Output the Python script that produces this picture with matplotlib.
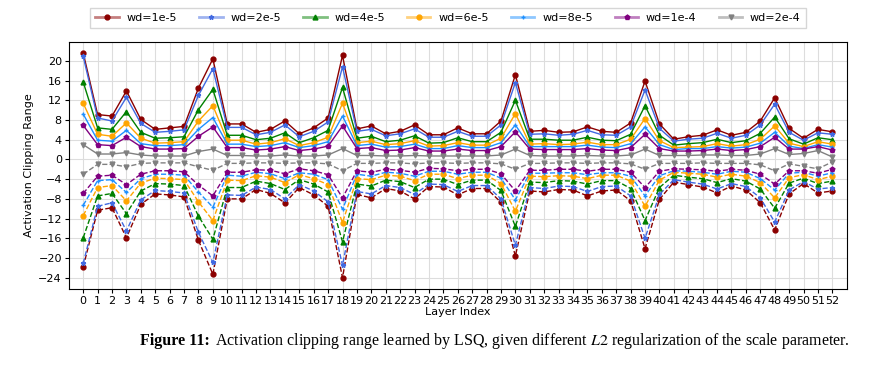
import numpy as np
import matplotlib
matplotlib.use('Agg')
import matplotlib.pyplot as plt
from matplotlib.lines import Line2D
from matplotlib.colors import to_rgba

layers = np.arange(53)
labels = ['wd=1e-5', 'wd=2e-5', 'wd=4e-5', 'wd=6e-5', 'wd=8e-5', 'wd=1e-4', 'wd=2e-4']
colors = ['darkred', 'royalblue', 'green', 'orange', 'dodgerblue', 'purple', 'gray']
markers = ['o', '*', '^', 'o', '+', 'p', 'v']

# upper clipping bound (solid lines)
pos_1e5 = [21.6, 9.1, 8.8, 13.9, 8.1, 6.1, 6.4, 6.7, 14.5, 20.4, 7.2, 7.2, 5.5, 6.1, 7.8, 5.2, 6.4, 8.4, 21.1,
           6.2, 6.8, 5.2, 5.7, 7.0, 5.0, 5.0, 6.4, 5.2, 5.2, 7.8, 17.2, 5.7, 5.9, 5.5, 5.6, 6.6, 5.7, 5.5, 7.4,
           15.9, 7.2, 4.1, 4.6, 4.9, 6.0, 4.9, 5.5, 7.8, 12.5, 6.3, 4.3, 6.1, 5.6]
pos_2e5 = [20.9, 8.4, 7.8, 12.6, 7.3, 5.5, 5.7, 6.0, 13.0, 18.4, 6.5, 6.5, 5.0, 5.5, 7.0, 4.6, 5.7, 7.6, 18.8,
           5.7, 6.1, 4.8, 5.2, 6.2, 4.5, 4.5, 5.7, 4.7, 4.7, 7.0, 15.6, 5.1, 5.2, 4.9, 5.1, 5.9, 5.0, 4.9, 6.6,
           14.1, 6.3, 3.7, 4.1, 4.3, 5.3, 4.3, 4.9, 7.0, 11.2, 5.5, 3.9, 5.4, 5.1]
pos_4e5 = [15.7, 6.4, 6.1, 9.7, 5.5, 4.3, 4.4, 4.6, 10.1, 14.2, 4.9, 4.9, 4.0, 4.3, 5.4, 3.4, 4.4, 5.9, 14.6,
           4.3, 4.7, 3.6, 3.9, 4.8, 3.3, 3.4, 4.4, 3.6, 3.6, 5.5, 12.0, 4.1, 4.1, 3.9, 3.9, 4.5, 3.9, 3.8, 5.1,
           10.9, 4.9, 2.9, 3.2, 3.4, 4.1, 3.4, 3.8, 5.3, 8.6, 4.2, 3.1, 4.4, 4.0]
pos_6e5 = [11.4, 5.1, 4.7, 7.4, 4.3, 3.3, 3.4, 3.6, 7.8, 10.9, 3.9, 3.9, 3.1, 3.4, 4.2, 2.8, 3.4, 4.5, 11.4,
           3.4, 3.7, 3.0, 3.2, 3.8, 2.7, 2.8, 3.4, 2.9, 2.9, 4.3, 9.3, 3.1, 3.2, 3.0, 3.1, 3.5, 3.0, 3.0, 4.1,
           8.3, 3.8, 2.4, 2.5, 2.6, 3.2, 2.7, 3.0, 4.1, 6.8, 3.3, 2.6, 3.6, 3.1]
pos_8e5 = [9.2, 3.9, 3.7, 5.9, 3.2, 2.8, 2.8, 3.0, 6.1, 8.5, 3.1, 3.1, 2.6, 2.8, 3.4, 2.4, 2.8, 3.6, 8.8,
           2.8, 3.1, 2.5, 2.6, 3.1, 2.2, 2.2, 2.8, 2.4, 2.4, 3.4, 7.0, 2.6, 2.6, 2.6, 2.6, 2.9, 2.5, 2.4, 3.2,
           6.6, 3.0, 2.0, 2.2, 2.2, 2.6, 2.3, 2.5, 3.3, 5.5, 2.7, 2.2, 3.0, 2.5]
pos_1e4 = [6.9, 3.0, 2.8, 4.5, 2.6, 2.1, 2.1, 2.2, 4.7, 6.6, 2.4, 2.4, 1.9, 2.1, 2.6, 1.8, 2.1, 2.7, 6.8,
           2.2, 2.4, 1.8, 1.9, 2.4, 1.7, 1.7, 2.1, 1.8, 1.8, 2.6, 5.6, 2.1, 2.0, 2.0, 2.0, 2.2, 1.9, 1.8, 2.4,
           5.1, 2.2, 1.7, 1.7, 1.8, 2.1, 1.8, 2.0, 2.6, 4.5, 2.1, 2.1, 2.6, 1.9]
pos_2e4 = [3.0, 1.1, 1.1, 1.4, 0.9, 0.7, 0.7, 0.7, 1.6, 2.1, 0.8, 0.8, 0.7, 0.7, 0.9, 0.7, 0.7, 0.9, 2.2,
           0.8, 0.8, 0.7, 0.7, 0.8, 0.7, 0.7, 0.7, 0.7, 0.7, 0.9, 2.1, 0.8, 0.7, 0.7, 0.7, 0.8, 0.7, 0.7, 0.9,
           2.1, 0.8, 0.8, 0.8, 0.9, 0.9, 0.8, 0.8, 1.1, 2.2, 1.0, 1.2, 1.8, 0.5]

# lower clipping bound (dashed lines)
neg_1e5 = [-21.8, -10.3, -9.8, -15.9, -9.1, -7.0, -7.2, -7.6, -16.4, -23.3, -8.0, -8.0, -6.1, -6.9, -8.8, -5.7,
           -7.2, -9.5, -24.0, -7.1, -7.8, -5.9, -6.4, -8.0, -5.5, -5.6, -7.2, -5.9, -5.9, -8.7, -19.6, -6.4,
           -6.6, -6.1, -6.2, -7.4, -6.4, -6.2, -8.4, -18.1, -8.1, -4.6, -5.1, -5.6, -6.8, -5.4, -6.2, -8.8,
           -14.3, -7.0, -4.9, -6.8, -6.4]
neg_2e5 = [-21.1, -9.5, -8.8, -14.5, -8.2, -6.3, -6.5, -6.8, -14.8, -20.9, -7.2, -7.3, -5.6, -6.1, -8.0, -5.1,
           -6.4, -8.6, -21.5, -6.5, -7.0, -5.3, -5.7, -7.1, -5.0, -5.1, -6.5, -5.3, -5.3, -8.0, -17.4, -5.7,
           -5.9, -5.4, -5.5, -6.5, -5.5, -5.4, -7.4, -16.0, -7.1, -4.1, -4.6, -5.0, -6.0, -4.9, -5.5, -7.8,
           -12.7, -6.2, -4.5, -6.0, -5.7]
neg_4e5 = [-15.9, -7.4, -6.9, -11.0, -6.4, -4.9, -5.0, -5.3, -11.5, -16.2, -5.7, -5.7, -4.4, -4.9, -6.1, -4.1,
           -5.0, -6.6, -16.7, -5.0, -5.4, -4.2, -4.5, -5.7, -4.0, -4.0, -5.1, -4.2, -4.2, -6.3, -13.6, -4.6,
           -4.7, -4.3, -4.4, -5.0, -4.3, -4.3, -5.9, -12.4, -5.7, -3.2, -3.6, -3.9, -4.7, -3.9, -4.4, -6.0,
           -9.9, -4.8, -3.8, -4.9, -4.4]
neg_6e5 = [-11.4, -5.7, -5.3, -8.4, -4.8, -3.8, -3.9, -4.1, -8.6, -12.4, -4.2, -4.3, -3.3, -3.6, -4.7, -3.1,
           -3.9, -5.1, -12.8, -3.9, -4.1, -3.2, -3.4, -4.3, -3.0, -3.0, -3.9, -3.2, -3.2, -4.9, -10.5, -3.4,
           -3.5, -3.3, -3.4, -3.9, -3.2, -3.2, -4.4, -9.5, -4.2, -2.6, -2.8, -3.0, -3.6, -3.0, -3.4, -4.7,
           -7.8, -3.7, -3.1, -4.1, -3.4]
neg_8e5 = [-9.3, -4.3, -4.1, -6.7, -3.9, -3.0, -3.0, -3.2, -6.6, -9.7, -3.2, -3.4, -2.6, -2.9, -3.9, -2.7,
           -3.0, -4.1, -10.1, -3.0, -3.4, -2.6, -2.8, -3.4, -2.4, -2.4, -3.0, -2.6, -2.6, -3.8, -8.2, -2.8,
           -2.8, -2.7, -2.7, -3.1, -2.7, -2.7, -3.4, -7.4, -3.3, -2.3, -2.4, -2.6, -3.0, -2.4, -2.6, -3.9,
           -6.2, -2.8, -2.6, -3.4, -2.7]
neg_1e4 = [-6.9, -3.4, -3.2, -5.1, -3.0, -2.3, -2.3, -2.5, -5.2, -7.4, -2.6, -2.6, -2.1, -2.2, -2.9, -1.9,
           -2.3, -3.1, -7.8, -2.3, -2.6, -2.0, -2.2, -2.6, -1.8, -1.9, -2.3, -2.0, -2.0, -2.9, -6.4, -2.2,
           -2.2, -2.0, -2.0, -2.4, -2.0, -2.0, -2.6, -5.7, -2.4, -1.9, -2.0, -2.1, -2.4, -2.0, -2.2, -3.0,
           -5.0, -2.3, -2.3, -2.8, -2.0]
neg_2e4 = [-3.0, -1.0, -1.0, -1.5, -0.8, -0.7, -0.7, -0.7, -1.5, -2.2, -0.8, -0.8, -0.7, -0.7, -0.8, -0.7,
           -0.7, -0.9, -2.3, -0.8, -0.8, -0.7, -0.7, -0.9, -0.7, -0.7, -0.8, -0.7, -0.7, -0.9, -2.0, -0.8,
           -0.8, -0.7, -0.7, -0.8, -0.7, -0.7, -0.9, -2.0, -0.8, -0.8, -0.8, -0.7, -0.8, -0.8, -0.8, -1.1,
           -2.3, -0.9, -1.4, -1.9, -0.5]

pos = [pos_1e5, pos_2e5, pos_4e5, pos_6e5, pos_8e5, pos_1e4, pos_2e4]
neg = [neg_1e5, neg_2e5, neg_4e5, neg_6e5, neg_8e5, neg_1e4, neg_2e4]

fig = plt.figure(figsize=(8.82, 3.65), dpi=100)
ax = fig.add_axes([0.078, 0.208, 0.882, 0.678])

handles = []
for p, n, c, m, lab in zip(pos, neg, colors, markers, labels):
    ax.plot(layers, p, color=c, marker=m, ms=3.5, lw=1.0)
    ax.plot(layers, n, color=c, marker=m, ms=3.5, lw=1.0, ls='--')
    # legend: faint line, solid marker
    handles.append(Line2D([], [], color=to_rgba(c, 0.5), lw=2, marker=m, ms=3.5,
                          markerfacecolor=c, markeredgecolor=c, label=lab))

ax.set_xlim(-1, 53)
ax.set_ylim(-26.3, 23.9)
ax.set_xticks(layers)
ax.set_yticks(np.arange(-24, 21, 4))
ax.tick_params(labelsize=8, length=3, pad=2)
ax.grid(color='#dddddd', lw=0.8)
ax.set_axisbelow(True)
ax.set_xlabel('Layer Index', fontsize=8, labelpad=1)
ax.set_ylabel('Activation Clipping Range', fontsize=8, labelpad=3)

fig.legend(handles=handles, loc='upper center', ncol=7, bbox_to_anchor=(0.508, 0.993),
           fontsize=8, frameon=True, edgecolor='#cccccc', fancybox=False,
           handlelength=2.1, handletextpad=0.7, columnspacing=2.0, borderpad=0.45)

# caption: bold label followed by regular text
t1 = fig.text(0.159, 0.055, 'Figure 11:', fontsize=11.5, family='Liberation Serif', weight='bold')
fig.canvas.draw()
bb = t1.get_window_extent()
x2 = (bb.x1 + 5) / fig.bbox.width
fig.text(x2, 0.055, 'Activation clipping range learned by LSQ, given different $L2$ regularization of the scale parameter.',
         fontsize=11.5, family='Liberation Serif', math_fontfamily='stix')

fig.savefig('out.png', dpi=100)
